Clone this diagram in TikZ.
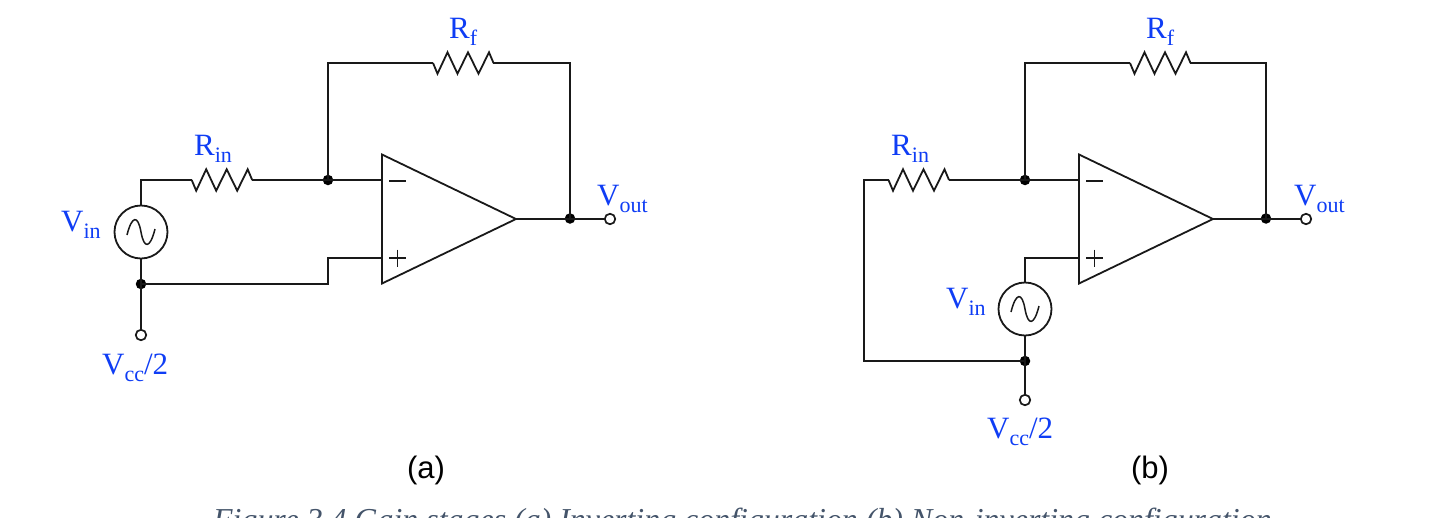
\documentclass[tikz,border=0pt]{standalone}
\usepackage{fontspec}
\setmainfont{Liberation Serif}
\newfontfamily\capsans{Liberation Sans}
\usetikzlibrary{calc}
\definecolor{labblue}{HTML}{0F3DF5}
\definecolor{capslate}{HTML}{44546A}
\newcommand{\lblsub}[2]{#1{\raisebox{-7.5pt}{\fontsize{22}{22}\selectfont #2}}}
\tikzset{
  x=1pt,y=-1pt,
  wire/.style={line width=1.8pt,line join=miter,color=black!90},
  dotnode/.style={circle,fill=black,draw=none,inner sep=0pt,minimum size=10.5pt},
  opennode/.style={circle,draw=black!90,fill=white,line width=1.7pt,inner sep=0pt,minimum size=10.5pt},
  srcnode/.style={circle,draw=black!90,line width=1.8pt,inner sep=0pt,minimum size=53pt},
  lab/.style={anchor=base west,inner sep=0pt,text=labblue,font=\fontsize{31}{31}\selectfont},
  sublabel/.style={anchor=base,inner sep=0pt,text=black,font=\capsans\fontsize{31}{31}\selectfont},
  caplabel/.style={anchor=base west,inner sep=0pt,text=capslate,font=\itshape\fontsize{31.9}{32}\selectfont},
  signlabel/.style={line width=1.5pt,color=black!90},
  resistor/.pic={
    \draw[wire] (-29,0) -- ++(4.5,10.7) -- ++(10,-21.4) -- ++(10,21.4) -- ++(10.5,-21.4)
      -- ++(10.5,21.4) -- ++(10.5,-21.4) -- ++(4.5,10.7);
  },
  sinewave/.pic={
    \draw[line width=1.5pt,color=black!90] (-14,3) .. controls (-9,-17) and (-3,-17) .. (0,0)
      .. controls (3,17) and (9,17) .. (14,-3);
  },
  amplifier/.pic={
    \draw[wire] (0,-64.5) -- (134,0) -- (0,64.5) -- cycle;
    \draw[signlabel] (7,-38) -- (24,-38);
    \draw[signlabel] (7,39) -- (24,39) (15.5,30.5) -- (15.5,47.5);
  }
}
\begin{document}
\begin{tikzpicture}
\useasboundingbox (0,0) rectangle (1450,517);
\clip (0,0) rectangle (1450,517);
\fill[white] (0,0) rectangle (1450,517);

% ---------- circuit (a) ----------
\coordinate (aTL) at (328,63);
\coordinate (aTR) at (570,63);
\coordinate (aRfL) at (433,63);
\coordinate (aRfR) at (493,63);
\coordinate (aRinL) at (191.7,180);
\coordinate (aRinR) at (251.7,180);
\coordinate (aCorner) at (141,180);
\coordinate (aMinus) at (382,180);
\coordinate (aPlus) at (382,258);
\coordinate (aStep) at (328,258);
\coordinate (aTip) at (516,219);
\node[srcnode] (aSrc) at (141,232) {};
\node[dotnode] (aJ1) at (328,180) {};
\node[dotnode] (aJ2) at (570,218.5) {};
\node[dotnode] (aJ3) at (141,284) {};
\node[opennode] (aOut) at (610,219) {};
\node[opennode] (aVcc) at (141,335) {};
\draw[wire] (aSrc.north) -- (aCorner) -- (aRinL);
\draw[wire] (aRinR) -- (aJ1.center) -- (aMinus);
\draw[wire] (aJ1.center) -- (aTL) -- (aRfL);
\draw[wire] (aRfR) -- (aTR) -- (aJ2.center);
\draw[wire] (aTip) -- (aOut.west);
\draw[wire] (aSrc.south) -- (aJ3.center) -- (aVcc.north);
\draw[wire] (aJ3.center) -- (328,284) -- (aStep) -- (aPlus);
\pic at (220.7,180) {resistor};
\pic at (462,63) {resistor};
\pic at (141,232) {sinewave};
\pic at (382,219) {amplifier};
\node[lab] (aLf) at (449,38) {\lblsub{R}{f}};
\node[lab] (aLin) at (194,155) {\lblsub{R}{in}};
\node[lab] (aLv) at (61,231) {\lblsub{V}{in}};
\node[lab] (aLc) at (102,374) {\lblsub{V}{cc}/2};
\node[lab] (aLo) at (597,205) {\lblsub{V}{out}};
\node[sublabel] (aCap) at (426,478) {(a)};

% ---------- circuit (b) ----------
\coordinate (bTL) at (1025,63);
\coordinate (bTR) at (1266,63);
\coordinate (bRfL) at (1130,63);
\coordinate (bRfR) at (1190,63);
\coordinate (bRinL) at (888.5,180);
\coordinate (bRinR) at (948.5,180);
\coordinate (bCorner) at (864,180);
\coordinate (bLow) at (864,361);
\coordinate (bMinus) at (1079,180);
\coordinate (bPlus) at (1079,258);
\coordinate (bStep) at (1025,258);
\coordinate (bTip) at (1213,219);
\node[srcnode] (bSrc) at (1025,309) {};
\node[dotnode] (bJ1) at (1025,180) {};
\node[dotnode] (bJ2) at (1266,218.5) {};
\node[dotnode] (bJ3) at (1025,361) {};
\node[opennode] (bOut) at (1306,219) {};
\node[opennode] (bVcc) at (1025,400) {};
\draw[wire] (bJ3.center) -- (bLow) -- (bCorner) -- (bRinL);
\draw[wire] (bRinR) -- (bJ1.center) -- (bMinus);
\draw[wire] (bJ1.center) -- (bTL) -- (bRfL);
\draw[wire] (bRfR) -- (bTR) -- (bJ2.center);
\draw[wire] (bTip) -- (bOut.west);
\draw[wire] (bSrc.south) -- (bJ3.center) -- (bVcc.north);
\draw[wire] (bSrc.north) -- (bStep) -- (bPlus);
\pic at (917.5,180) {resistor};
\pic at (1159,63) {resistor};
\pic at (1025,309) {sinewave};
\pic at (1079,219) {amplifier};
\node[lab] (bLf) at (1146,38) {\lblsub{R}{f}};
\node[lab] (bLin) at (891,155) {\lblsub{R}{in}};
\node[lab] (bLv) at (946,308) {\lblsub{V}{in}};
\node[lab] (bLc) at (987,438) {\lblsub{V}{cc}/2};
\node[lab] (bLo) at (1294,205) {\lblsub{V}{out}};
\node[sublabel] (bCap) at (1150,478) {(b)};

\node[caplabel] (caption) at (213,530) {Figure 3.4 Gain stages (a) Inverting configuration (b) Non-inverting configuration};
\end{tikzpicture}
\end{document}
